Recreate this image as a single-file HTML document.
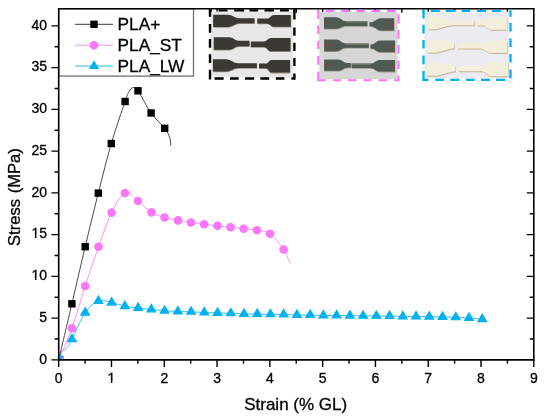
<!DOCTYPE html>
<html><head><meta charset="utf-8"><title>Stress-strain</title>
<style>
html,body{margin:0;padding:0;background:#fff;width:550px;height:416px;overflow:hidden}
svg{display:block;font-family:"Liberation Sans",Arial,sans-serif;fill:#000}
svg text{fill:#000;stroke:#000;stroke-width:0.3px}
</style></head><body>
<svg width="550" height="416" viewBox="0 0 550 416">
<rect width="550" height="416" fill="#fff"/>
<path d="M51.4,359.9 H58.7 M51.4,318.15 H58.7 M533.8,318.15 H526.8 M51.4,276.4 H58.7 M533.8,276.4 H526.8 M51.4,234.65 H58.7 M533.8,234.65 H526.8 M51.4,192.9 H58.7 M533.8,192.9 H526.8 M51.4,151.15 H58.7 M533.8,151.15 H526.8 M51.4,109.4 H58.7 M533.8,109.4 H526.8 M51.4,67.65 H58.7 M533.8,67.65 H526.8 M51.4,25.9 H58.7 M533.8,25.9 H526.8 M54.6,339.02 H58.7 M533.8,339.02 H529.8 M54.6,297.27 H58.7 M533.8,297.27 H529.8 M54.6,255.52 H58.7 M533.8,255.52 H529.8 M54.6,213.77 H58.7 M533.8,213.77 H529.8 M54.6,172.02 H58.7 M533.8,172.02 H529.8 M54.6,130.27 H58.7 M533.8,130.27 H529.8 M54.6,88.52 H58.7 M533.8,88.52 H529.8 M54.6,46.77 H58.7 M533.8,46.77 H529.8 M58.7,359.9 V367 M111.49,359.9 V367 M111.49,8.7 V15.7 M164.28,359.9 V367 M164.28,8.7 V15.7 M217.07,359.9 V367 M217.07,8.7 V15.7 M269.86,359.9 V367 M269.86,8.7 V15.7 M322.65,359.9 V367 M322.65,8.7 V15.7 M375.44,359.9 V367 M375.44,8.7 V15.7 M428.23,359.9 V367 M428.23,8.7 V15.7 M481.02,359.9 V367 M481.02,8.7 V15.7 M533.81,359.9 V367 M85.09,359.9 V363.8 M85.09,8.7 V12.7 M137.88,359.9 V363.8 M137.88,8.7 V12.7 M190.68,359.9 V363.8 M190.68,8.7 V12.7 M243.46,359.9 V363.8 M243.46,8.7 V12.7 M296.25,359.9 V363.8 M296.25,8.7 V12.7 M349.04,359.9 V363.8 M349.04,8.7 V12.7 M401.83,359.9 V363.8 M401.83,8.7 V12.7 M454.62,359.9 V363.8 M454.62,8.7 V12.7 M507.41,359.9 V363.8 M507.41,8.7 V12.7" stroke="#000" stroke-width="1.4" fill="none"/>
<defs><clipPath id="pc"><rect x="58.7" y="8.7" width="475.1" height="351.2"/></clipPath></defs>
<g clip-path="url(#pc)">
<path d="M58.7,359.9 C59.18,358.52 60.67,353.25 61.6,351.6 C62.53,349.95 63.27,350.85 64.3,350 C65.33,349.15 66.53,348.3 67.8,346.5 C69.07,344.7 69.04,344.83 71.94,339.2 C74.83,333.57 80.76,319.08 85.17,312.7 C89.58,306.32 93.99,302.58 98.41,300.9 C102.82,299.22 107.23,301.72 111.64,302.6 C116.05,303.48 120.46,305.3 124.88,306.2 C129.29,307.1 133.7,307.45 138.11,308 C142.52,308.55 146.93,309.03 151.34,309.5 C155.76,309.97 160.17,310.47 164.58,310.8 C168.99,311.13 173.4,311.33 177.82,311.5 C182.23,311.67 186.64,311.63 191.05,311.8 C195.46,311.97 199.87,312.3 204.28,312.5 C208.7,312.7 213.11,312.87 217.52,313 C221.93,313.13 226.34,313.13 230.75,313.3 C235.17,313.47 239.58,313.88 243.99,314 C248.4,314.12 252.81,313.95 257.23,314 C261.64,314.05 266.05,314.22 270.46,314.3 C274.87,314.38 279.28,314.38 283.69,314.5 C288.11,314.62 292.52,314.92 296.93,315 C301.34,315.08 305.75,314.92 310.16,315 C314.58,315.08 318.99,315.42 323.4,315.5 C327.81,315.58 332.22,315.47 336.63,315.5 C341.05,315.53 345.46,315.65 349.87,315.7 C354.28,315.75 358.69,315.75 363.11,315.8 C367.52,315.85 371.93,315.97 376.34,316 C380.75,316.03 385.16,315.93 389.57,316 C393.99,316.07 398.4,316.33 402.81,316.4 C407.22,316.47 411.63,316.37 416.04,316.4 C420.46,316.43 424.87,316.5 429.28,316.6 C433.69,316.7 438.1,316.88 442.51,317 C446.93,317.12 451.34,317.13 455.75,317.3 C460.16,317.47 464.57,317.68 468.99,318 C473.4,318.32 480.01,319 482.22,319.2" stroke="#30bcf2" stroke-width="1" fill="none"/>
<path d="M58.7,359.9 C60.9,354.62 67.48,340.52 71.9,328.2 C76.32,315.88 80.77,299.58 85.2,286 C89.63,272.42 94.1,258.93 98.5,246.7 C102.9,234.47 107.2,221.55 111.6,212.6 C116,203.65 120.5,194.93 124.9,193 C129.3,191.07 133.58,197.77 138,201 C142.42,204.23 146.98,209.65 151.4,212.4 C155.82,215.15 160.08,216.17 164.5,217.5 C168.92,218.83 173.48,219.57 177.9,220.4 C182.32,221.23 186.63,221.85 191,222.5 C195.37,223.15 199.68,223.75 204.1,224.3 C208.52,224.85 213.1,225.3 217.5,225.8 C221.9,226.3 226.15,226.82 230.5,227.3 C234.85,227.78 239.2,228.22 243.6,228.7 C248,229.18 252.5,229.35 256.9,230.2 C261.3,231.05 265.55,230.58 270,233.8 C274.45,237.02 280.27,244.53 283.6,249.5 C286.93,254.47 288.93,261.25 290,263.6" stroke="#fb8efb" stroke-width="1" fill="none"/>
<path d="M58.7,359.9 C60.9,350.55 67.48,322.67 71.9,303.8 C76.32,284.93 80.8,265.15 85.2,246.7 C89.6,228.25 93.95,210.3 98.3,193.1 C102.65,175.9 106.83,158.77 111.3,143.5 C115.77,128.23 122.15,110.15 125.1,101.5 C128.05,92.85 127.68,93.92 129,91.6 C130.32,89.28 131.5,87.73 133,87.6 C134.5,87.47 134.98,86.57 138,90.8 C141.02,95.03 146.65,106.75 151.1,113 C155.55,119.25 161.62,124.25 164.7,128.3 C167.78,132.35 168.58,134.4 169.6,137.3 C170.62,140.2 170.6,144.3 170.8,145.7" stroke="#404040" stroke-width="0.95" fill="none"/>
<rect x="68.2" y="300.1" width="7.4" height="7.4" fill="#000"/>
<rect x="81.5" y="243" width="7.4" height="7.4" fill="#000"/>
<rect x="94.6" y="189.4" width="7.4" height="7.4" fill="#000"/>
<rect x="107.6" y="139.8" width="7.4" height="7.4" fill="#000"/>
<rect x="121.4" y="97.8" width="7.4" height="7.4" fill="#000"/>
<rect x="134.3" y="87.1" width="7.4" height="7.4" fill="#000"/>
<rect x="147.4" y="109.3" width="7.4" height="7.4" fill="#000"/>
<rect x="161" y="124.6" width="7.4" height="7.4" fill="#000"/>
<rect x="55.9" y="355.8" width="7.4" height="7.4" fill="#000"/>
<circle cx="71.9" cy="328.2" r="4.3" fill="#fa76fa"/>
<circle cx="85.2" cy="286" r="4.3" fill="#fa76fa"/>
<circle cx="98.5" cy="246.7" r="4.3" fill="#fa76fa"/>
<circle cx="111.6" cy="212.6" r="4.3" fill="#fa76fa"/>
<circle cx="124.9" cy="193" r="4.3" fill="#fa76fa"/>
<circle cx="138" cy="201" r="4.3" fill="#fa76fa"/>
<circle cx="151.4" cy="212.4" r="4.3" fill="#fa76fa"/>
<circle cx="164.5" cy="217.5" r="4.3" fill="#fa76fa"/>
<circle cx="177.9" cy="220.4" r="4.3" fill="#fa76fa"/>
<circle cx="191" cy="222.5" r="4.3" fill="#fa76fa"/>
<circle cx="204.1" cy="224.3" r="4.3" fill="#fa76fa"/>
<circle cx="217.5" cy="225.8" r="4.3" fill="#fa76fa"/>
<circle cx="230.5" cy="227.3" r="4.3" fill="#fa76fa"/>
<circle cx="243.6" cy="228.7" r="4.3" fill="#fa76fa"/>
<circle cx="256.9" cy="230.2" r="4.3" fill="#fa76fa"/>
<circle cx="270" cy="233.8" r="4.3" fill="#fa76fa"/>
<circle cx="283.6" cy="249.5" r="4.3" fill="#fa76fa"/>
<circle cx="59.6" cy="359.5" r="4.3" fill="#fa76fa"/>
<path d="M71.94,333.07 L77.34,342.27 L66.53,342.27 Z" fill="#00b1f0"/>
<path d="M85.17,306.57 L90.57,315.77 L79.77,315.77 Z" fill="#00b1f0"/>
<path d="M98.41,294.77 L103.81,303.97 L93,303.97 Z" fill="#00b1f0"/>
<path d="M111.64,296.47 L117.04,305.67 L106.24,305.67 Z" fill="#00b1f0"/>
<path d="M124.88,300.07 L130.28,309.27 L119.47,309.27 Z" fill="#00b1f0"/>
<path d="M138.11,301.87 L143.51,311.07 L132.71,311.07 Z" fill="#00b1f0"/>
<path d="M151.34,303.37 L156.74,312.57 L145.94,312.57 Z" fill="#00b1f0"/>
<path d="M164.58,304.67 L169.98,313.87 L159.18,313.87 Z" fill="#00b1f0"/>
<path d="M177.82,305.37 L183.22,314.57 L172.42,314.57 Z" fill="#00b1f0"/>
<path d="M191.05,305.67 L196.45,314.87 L185.65,314.87 Z" fill="#00b1f0"/>
<path d="M204.28,306.37 L209.69,315.57 L198.88,315.57 Z" fill="#00b1f0"/>
<path d="M217.52,306.87 L222.92,316.07 L212.12,316.07 Z" fill="#00b1f0"/>
<path d="M230.75,307.17 L236.16,316.37 L225.35,316.37 Z" fill="#00b1f0"/>
<path d="M243.99,307.87 L249.39,317.07 L238.59,317.07 Z" fill="#00b1f0"/>
<path d="M257.23,307.87 L262.62,317.07 L251.83,317.07 Z" fill="#00b1f0"/>
<path d="M270.46,308.17 L275.86,317.37 L265.06,317.37 Z" fill="#00b1f0"/>
<path d="M283.69,308.37 L289.09,317.57 L278.3,317.57 Z" fill="#00b1f0"/>
<path d="M296.93,308.87 L302.33,318.07 L291.53,318.07 Z" fill="#00b1f0"/>
<path d="M310.16,308.87 L315.56,318.07 L304.76,318.07 Z" fill="#00b1f0"/>
<path d="M323.4,309.37 L328.8,318.57 L318,318.57 Z" fill="#00b1f0"/>
<path d="M336.63,309.37 L342.03,318.57 L331.24,318.57 Z" fill="#00b1f0"/>
<path d="M349.87,309.57 L355.27,318.77 L344.47,318.77 Z" fill="#00b1f0"/>
<path d="M363.11,309.67 L368.5,318.87 L357.71,318.87 Z" fill="#00b1f0"/>
<path d="M376.34,309.87 L381.74,319.07 L370.94,319.07 Z" fill="#00b1f0"/>
<path d="M389.57,309.87 L394.97,319.07 L384.18,319.07 Z" fill="#00b1f0"/>
<path d="M402.81,310.27 L408.21,319.47 L397.41,319.47 Z" fill="#00b1f0"/>
<path d="M416.04,310.27 L421.44,319.47 L410.64,319.47 Z" fill="#00b1f0"/>
<path d="M429.28,310.47 L434.68,319.67 L423.88,319.67 Z" fill="#00b1f0"/>
<path d="M442.51,310.87 L447.91,320.07 L437.12,320.07 Z" fill="#00b1f0"/>
<path d="M455.75,311.17 L461.15,320.37 L450.35,320.37 Z" fill="#00b1f0"/>
<path d="M468.99,311.87 L474.38,321.07 L463.59,321.07 Z" fill="#00b1f0"/>
<path d="M482.22,313.07 L487.62,322.27 L476.82,322.27 Z" fill="#00b1f0"/>
<path d="M59.6,353.37 L65,362.57 L54.2,362.57 Z" fill="#00b1f0"/>
</g>
<rect x="58.7" y="8.7" width="134.8" height="67.4" fill="#fff" stroke="#707070" stroke-width="1.3"/>
<path d="M75,24.3 H113" stroke="#404040" stroke-width="1"/>
<rect x="90.3" y="20.6" width="7.4" height="7.4" fill="#000"/>
<path d="M75,45.2 H113" stroke="#fb8efb" stroke-width="1.1"/>
<circle cx="94" cy="45.2" r="4.3" fill="#fa76fa"/>
<path d="M75,66 H113" stroke="#30bcf2" stroke-width="1.1"/>
<path d="M94,60.13 L99.2,68.93 L88.8,68.93 Z" fill="#00b1f0"/>
<text x="117.5" y="30" font-size="17.3">PLA+</text>
<text x="117.5" y="50.9" font-size="17.3">PLA_ST</text>
<text x="117.5" y="71.8" font-size="17.3">PLA_LW</text>
<rect x="211.2" y="11.5" width="81.9" height="66" fill="#e7e7e7"/>
<g transform="translate(0.3,0.8)" opacity="0.6"><path d="M213.2,14.7 L227.5,14.7 C233.12,14.7 234.38,18.3 240,18.3 L254.5,18.3 L254.5,23.3 L240,23.3 C234.38,23.3 233.12,26.9 227.5,26.9 L213.2,26.9 Z" fill="#6b5a48"/><path d="M290.8,14.9 L274,14.9 C270.85,14.9 270.15,18.5 267,18.5 L257.3,18.5 L257.3,23.4 L267,23.4 C270.15,23.4 270.85,26.8 274,26.8 L290.8,26.8 Z" fill="#6b5a48"/><path d="M213.7,37.3 L229,37.3 C233.5,37.3 234.5,40.8 239,40.8 L249.4,40.8 L249.4,46.2 L239,46.2 C234.5,46.2 233.5,49.7 229,49.7 L213.7,49.7 Z" fill="#6b5a48"/><path d="M290.4,38.1 L271,38.1 C267.85,38.1 267.15,41.5 264,41.5 L250.8,41.5 L250.8,46.9 L264,46.9 C267.15,46.9 267.85,51.3 271,51.3 L290.4,51.3 Z" fill="#6b5a48"/><path d="M212.9,59.3 L226,59.3 C231.62,59.3 232.88,63.3 238.5,63.3 L256.8,63.3 L256.8,68 L238.5,68 C232.88,68 231.62,71.4 226,71.4 L212.9,71.4 Z" fill="#6b5a48"/><path d="M290,59.9 L271.4,59.9 C268.92,59.9 268.38,63.5 265.9,63.5 L259.1,63.5 L259.1,68.3 L265.9,68.3 C268.38,68.3 268.92,72.6 271.4,72.6 L290,72.6 Z" fill="#6b5a48"/></g>
<path d="M213.2,14.7 L227.5,14.7 C233.12,14.7 234.38,18.3 240,18.3 L254.5,18.3 L254.5,23.3 L240,23.3 C234.38,23.3 233.12,26.9 227.5,26.9 L213.2,26.9 Z" fill="#3a3934"/>
<path d="M290.8,14.9 L274,14.9 C270.85,14.9 270.15,18.5 267,18.5 L257.3,18.5 L257.3,23.4 L267,23.4 C270.15,23.4 270.85,26.8 274,26.8 L290.8,26.8 Z" fill="#3a3934"/>
<path d="M213.7,37.3 L229,37.3 C233.5,37.3 234.5,40.8 239,40.8 L249.4,40.8 L249.4,46.2 L239,46.2 C234.5,46.2 233.5,49.7 229,49.7 L213.7,49.7 Z" fill="#3a3934"/>
<path d="M290.4,38.1 L271,38.1 C267.85,38.1 267.15,41.5 264,41.5 L250.8,41.5 L250.8,46.9 L264,46.9 C267.15,46.9 267.85,51.3 271,51.3 L290.4,51.3 Z" fill="#3a3934"/>
<path d="M212.9,59.3 L226,59.3 C231.62,59.3 232.88,63.3 238.5,63.3 L256.8,63.3 L256.8,68 L238.5,68 C232.88,68 231.62,71.4 226,71.4 L212.9,71.4 Z" fill="#3a3934"/>
<path d="M290,59.9 L271.4,59.9 C268.92,59.9 268.38,63.5 265.9,63.5 L259.1,63.5 L259.1,68.3 L265.9,68.3 C268.38,68.3 268.92,72.6 271.4,72.6 L290,72.6 Z" fill="#3a3934"/>
<path d="M208.7,10.4 H212 M218.5,10.4 H227.6 M234.2,10.4 H243.6 M249.5,10.4 H258.2 M264.5,10.4 H274 M280,10.4 H289 M293,10.4 H295.6 M214.5,78.5 H223.7 M230,78.5 H238.7 M245,78.5 H254.2 M260.3,78.5 H269.2 M275.8,78.5 H284.4 M291.4,78.5 H295.6 M210,9.2 V16.7 M210,24.1 V32.8 M210,39.1 V47.7 M210,54.2 V63.1 M210,69.8 V79.6 M294.4,11.5 V19.5 M294.4,27.6 V35.7 M294.4,42.8 V51.1 M294.4,57.9 V66 M294.4,73.4 V79.6" stroke="#000" stroke-width="2.4" fill="none"/>
<rect x="319.3" y="11.9" width="78.3" height="67.2" fill="#d6d6d7"/>
<g transform="translate(0.3,0.8)" opacity="0.6"><path d="M324,17.3 L336,17.3 C340.68,17.3 341.72,21.3 346.4,21.3 L367.3,21.3 L367.3,26 L346.4,26 C341.72,26 340.68,28.7 336,28.7 L324,28.7 Z" fill="#7a6a50"/><path d="M394.1,18.2 L381,18.2 C376.27,18.2 375.23,22.3 370.5,22.3 L369.5,22.3 L369.5,26.3 L370.5,26.3 C375.23,26.3 376.27,30.4 381,30.4 L394.1,30.4 Z" fill="#7a6a50"/><path d="M324.1,39.5 L336,39.5 C340.5,39.5 341.5,43.4 346,43.4 L368.8,43.4 L368.8,47.8 L346,47.8 C341.5,47.8 340.5,51.3 336,51.3 L324.1,51.3 Z" fill="#7a6a50"/><path d="M395,40.6 L380,40.6 C376.18,40.6 375.32,44.4 371.5,44.4 L370.5,44.4 L370.5,48.5 L371.5,48.5 C375.32,48.5 376.18,52.1 380,52.1 L395,52.1 Z" fill="#7a6a50"/><path d="M324.1,59.4 L338,59.4 C342.5,59.4 343.5,63.1 348,63.1 L350.8,63.1 L350.8,67.5 L348,67.5 C343.5,67.5 342.5,70.8 338,70.8 L324.1,70.8 Z" fill="#7a6a50"/><path d="M395,59.9 L380,59.9 C375.73,59.9 374.77,63.6 370.5,63.6 L351.6,63.6 L351.6,68 L370.5,68 C374.77,68 375.73,71.6 380,71.6 L395,71.6 Z" fill="#7a6a50"/></g>
<path d="M324,17.3 L336,17.3 C340.68,17.3 341.72,21.3 346.4,21.3 L367.3,21.3 L367.3,26 L346.4,26 C341.72,26 340.68,28.7 336,28.7 L324,28.7 Z" fill="#505a52"/>
<path d="M394.1,18.2 L381,18.2 C376.27,18.2 375.23,22.3 370.5,22.3 L369.5,22.3 L369.5,26.3 L370.5,26.3 C375.23,26.3 376.27,30.4 381,30.4 L394.1,30.4 Z" fill="#505a52"/>
<path d="M324.1,39.5 L336,39.5 C340.5,39.5 341.5,43.4 346,43.4 L368.8,43.4 L368.8,47.8 L346,47.8 C341.5,47.8 340.5,51.3 336,51.3 L324.1,51.3 Z" fill="#505a52"/>
<path d="M395,40.6 L380,40.6 C376.18,40.6 375.32,44.4 371.5,44.4 L370.5,44.4 L370.5,48.5 L371.5,48.5 C375.32,48.5 376.18,52.1 380,52.1 L395,52.1 Z" fill="#505a52"/>
<path d="M324.1,59.4 L338,59.4 C342.5,59.4 343.5,63.1 348,63.1 L350.8,63.1 L350.8,67.5 L348,67.5 C343.5,67.5 342.5,70.8 338,70.8 L324.1,70.8 Z" fill="#505a52"/>
<path d="M395,59.9 L380,59.9 C375.73,59.9 374.77,63.6 370.5,63.6 L351.6,63.6 L351.6,68 L370.5,68 C374.77,68 375.73,71.6 380,71.6 L395,71.6 Z" fill="#505a52"/>
<rect x="346.4" y="21.3" width="20.9" height="1.3" fill="#7a7c6c"/>
<rect x="346" y="43.4" width="22.8" height="1.3" fill="#7a7c6c"/>
<rect x="351.6" y="63.6" width="18.9" height="1.3" fill="#7a7c6c"/>
<rect x="325.7" y="21.4" width="1.8" height="3.2" rx="0.6" fill="#a33232"/>
<rect x="390.7" y="22.9" width="1.8" height="3.2" rx="0.6" fill="#a33232"/>
<rect x="325.7" y="43.9" width="1.8" height="3.2" rx="0.6" fill="#a33232"/>
<rect x="390.7" y="44.9" width="1.8" height="3.2" rx="0.6" fill="#a33232"/>
<rect x="325.7" y="63.4" width="1.8" height="3.2" rx="0.6" fill="#a33232"/>
<rect x="390.7" y="64.7" width="1.8" height="3.2" rx="0.6" fill="#a33232"/>
<path d="M317,10.9 H319.3 M325.6,10.9 H334.3 M341.1,10.9 H349.7 M356.5,10.9 H364.8 M371.6,10.9 H380.3 M387.1,10.9 H395.7 M317.3,80.2 H325.8 M332.7,80.2 H341.4 M347.9,80.2 H356.6 M363.5,80.2 H371.6 M378.5,80.2 H387.1 M394,80.2 H399.5 M318.3,10.3 V19 M318.3,25.3 V34 M318.3,40.7 V49 M318.3,56.1 V64.8 M318.3,71.7 V81.2 M398.5,14.3 V23.6 M398.5,29.9 V39.1 M398.5,44.9 V53.6 M398.5,60.5 V69.1 M398.5,75.6 V81.2" stroke="#fa76fa" stroke-width="2.1" fill="none"/>
<rect x="424.6" y="11.7" width="84.7" height="67" fill="#ebebf1"/>
<g transform="translate(0.5,1.0)"><path d="M428,16.3 L437.8,16.3 Q439,16.3 440.2,16.67 L449.8,19.63 Q451,20 452.2,20 L474.3,20 L474.3,25.2 L452.2,25.2 Q451,25.2 449.8,25.52 L437.2,28.88 Q436,29.2 434.8,29.2 L428,29.2 Z" fill="#c8b590"/><path d="M506.9,17 L489.7,17 Q488.5,17 487.3,17.7 L484.7,19.2 Q483.5,19.9 482.3,19.9 L477.2,19.9 L477.2,25.4 L482.3,25.4 Q483.5,25.4 484.7,26.26 L488.3,28.84 Q489.5,29.7 490.7,29.7 L506.9,29.7 Z" fill="#c8b590"/><path d="M427.6,39.6 L438.8,39.6 Q440,39.6 441.2,39.9 L451.8,42.5 Q453,42.8 454.2,42.8 L454.5,42.8 L454.5,48.2 L454.2,48.2 Q453,48.2 451.8,48.54 L438.2,52.36 Q437,52.7 435.8,52.7 L427.6,52.7 Z" fill="#c8b590"/><path d="M507.4,40.4 L489.2,40.4 Q488,40.4 486.8,40.88 L483.2,42.32 Q482,42.8 480.8,42.8 L457.4,42.8 L457.4,48.4 L480.8,48.4 Q482,48.4 483.2,49.21 L487.8,52.29 Q489,53.1 490.2,53.1 L507.4,53.1 Z" fill="#c8b590"/><path d="M426.7,62.3 L438.8,62.3 Q440,62.3 441.2,62.59 L453.3,65.51 Q454.5,65.8 455.7,65.8 L455.5,65.8 L455.5,71.2 L455.7,71.2 Q454.5,71.2 453.3,71.52 L438.2,75.48 Q437,75.8 435.8,75.8 L426.7,75.8 Z" fill="#c8b590"/><path d="M508,62.5 L490.2,62.5 Q489,62.5 487.8,63.2 L484.2,65.3 Q483,66 481.8,66 L458.4,66 L458.4,71.2 L481.8,71.2 Q483,71.2 484.2,72.06 L488.8,75.34 Q490,76.2 491.2,76.2 L508,76.2 Z" fill="#c8b590"/></g>
<path d="M428,16.3 L437.8,16.3 Q439,16.3 440.2,16.67 L449.8,19.63 Q451,20 452.2,20 L474.3,20 L474.3,25.2 L452.2,25.2 Q451,25.2 449.8,25.52 L437.2,28.88 Q436,29.2 434.8,29.2 L428,29.2 Z" fill="#f4eedc"/>
<path d="M506.9,17 L489.7,17 Q488.5,17 487.3,17.7 L484.7,19.2 Q483.5,19.9 482.3,19.9 L477.2,19.9 L477.2,25.4 L482.3,25.4 Q483.5,25.4 484.7,26.26 L488.3,28.84 Q489.5,29.7 490.7,29.7 L506.9,29.7 Z" fill="#f4eedc"/>
<path d="M427.6,39.6 L438.8,39.6 Q440,39.6 441.2,39.9 L451.8,42.5 Q453,42.8 454.2,42.8 L454.5,42.8 L454.5,48.2 L454.2,48.2 Q453,48.2 451.8,48.54 L438.2,52.36 Q437,52.7 435.8,52.7 L427.6,52.7 Z" fill="#f4eedc"/>
<path d="M507.4,40.4 L489.2,40.4 Q488,40.4 486.8,40.88 L483.2,42.32 Q482,42.8 480.8,42.8 L457.4,42.8 L457.4,48.4 L480.8,48.4 Q482,48.4 483.2,49.21 L487.8,52.29 Q489,53.1 490.2,53.1 L507.4,53.1 Z" fill="#f4eedc"/>
<path d="M426.7,62.3 L438.8,62.3 Q440,62.3 441.2,62.59 L453.3,65.51 Q454.5,65.8 455.7,65.8 L455.5,65.8 L455.5,71.2 L455.7,71.2 Q454.5,71.2 453.3,71.52 L438.2,75.48 Q437,75.8 435.8,75.8 L426.7,75.8 Z" fill="#f4eedc"/>
<path d="M508,62.5 L490.2,62.5 Q489,62.5 487.8,63.2 L484.2,65.3 Q483,66 481.8,66 L458.4,66 L458.4,71.2 L481.8,71.2 Q483,71.2 484.2,72.06 L488.8,75.34 Q490,76.2 491.2,76.2 L508,76.2 Z" fill="#f4eedc"/>
<path d="M422.1,10.8 H424.8 M430.7,10.8 H439.8 M445.7,10.8 H455.3 M461.6,10.8 H470.1 M476.9,10.8 H486 M491.9,10.8 H501 M422.1,79.8 H428.5 M435.3,79.8 H443.9 M450.3,79.8 H459.4 M466,79.8 H474.6 M481,79.8 H490.1 M496,79.8 H505.1 M423.5,9.7 V18.4 M423.5,24.7 V33.4 M423.5,40.1 V48.5 M423.5,55.6 V64.2 M423.5,71.1 V80.9 M510.5,10.3 V16.7 M510.5,23 V31.6 M510.5,38.6 V47 M510.5,53.9 V62.5 M510.5,69.4 V78.2" stroke="#00b1f0" stroke-width="2.3" fill="none"/>
<path d="M58.7,8.7 H533.8 V359.9 H58.7 Z" stroke="#000" stroke-width="1.6" fill="none"/>
<text x="47" y="363.5" font-size="14" text-anchor="end">0</text>
<text x="47" y="321.75" font-size="14" text-anchor="end">5</text>
<text x="47" y="280" font-size="14" text-anchor="end">10</text>
<text x="47" y="238.25" font-size="14" text-anchor="end">15</text>
<text x="47" y="196.5" font-size="14" text-anchor="end">20</text>
<text x="47" y="154.75" font-size="14" text-anchor="end">25</text>
<text x="47" y="113" font-size="14" text-anchor="end">30</text>
<text x="47" y="71.25" font-size="14" text-anchor="end">35</text>
<text x="47" y="29.5" font-size="14" text-anchor="end">40</text>
<text x="58.7" y="382.6" font-size="14" text-anchor="middle">0</text>
<text x="111.49" y="382.6" font-size="14" text-anchor="middle">1</text>
<text x="164.28" y="382.6" font-size="14" text-anchor="middle">2</text>
<text x="217.07" y="382.6" font-size="14" text-anchor="middle">3</text>
<text x="269.86" y="382.6" font-size="14" text-anchor="middle">4</text>
<text x="322.65" y="382.6" font-size="14" text-anchor="middle">5</text>
<text x="375.44" y="382.6" font-size="14" text-anchor="middle">6</text>
<text x="428.23" y="382.6" font-size="14" text-anchor="middle">7</text>
<text x="481.02" y="382.6" font-size="14" text-anchor="middle">8</text>
<text x="533.81" y="382.6" font-size="14" text-anchor="middle">9</text>
<text x="244.2" y="409.6" font-size="17">Strain (% GL)</text>
<text transform="translate(19.7,246) rotate(-90)" font-size="16.6" word-spacing="1">Stress (MPa)</text>
<path d="M107.57,380.95 H110.87 V384.3 H107.57 Z M112.48,380.95 H114.98 V384.3 H112.48 Z M110.87,383 H112.48 V384.3 H110.87 Z" fill="#fff"/>
<path d="M31.57,277.95 H34.87 V281.3 H31.57 Z M36.48,277.95 H38.98 V281.3 H36.48 Z M34.87,280 H36.48 V281.3 H34.87 Z" fill="#fff"/>
<path d="M31.57,235.95 H34.87 V239.3 H31.57 Z M36.48,235.95 H38.98 V239.3 H36.48 Z M34.87,238 H36.48 V239.3 H34.87 Z" fill="#fff"/>
</svg>
</body></html>
